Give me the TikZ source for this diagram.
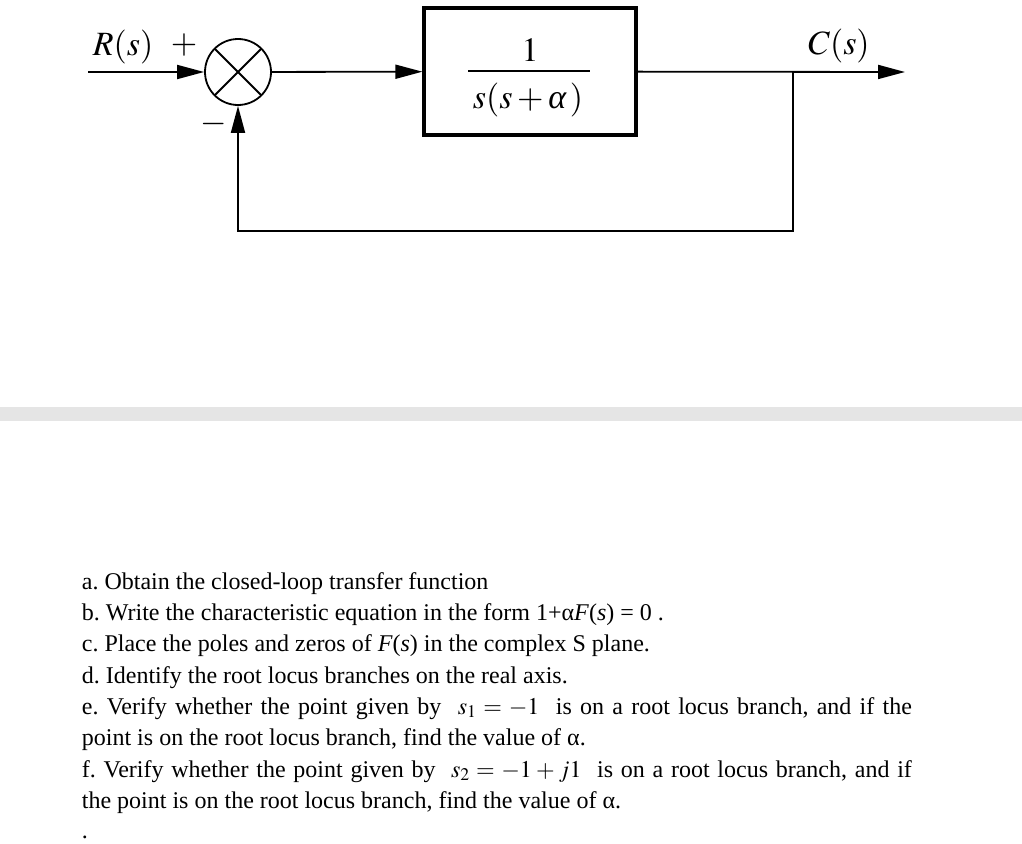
\documentclass[tikz,border=0pt]{standalone}
\usepackage{mathptmx}
\usepackage[no-math]{fontspec}
\setmainfont{Liberation Serif}
\usetikzlibrary{arrows.meta}
\frenchspacing

\begin{document}
\begin{tikzpicture}[x=1pt, y=-1pt,
    line width=1.8pt,
    arr/.style={-{Triangle[length=27pt, width=14pt]}},
    lbl/.style={font=\fontsize{34}{40}\selectfont, inner sep=0pt, anchor=base},
    qline/.style={font=\fontsize{24}{31}\selectfont, inner sep=0pt, anchor=base west}]

        \useasboundingbox (0,0) rectangle (1022,843);

        % === Schema a blocchi ===
        \coordinate (in) at (88,72);
        \node[draw, circle, minimum size=66pt, inner sep=0pt,
              path picture={\draw (path picture bounding box.north west) -- (path picture bounding box.south east)
                                  (path picture bounding box.north east) -- (path picture bounding box.south west);}]
              (sum) at (238,72) {};
        \node[draw, line width=3.2pt, minimum width=212pt, minimum height=127pt, inner sep=0pt] (plant) at (530,71.5) {};
        \coordinate (branch) at (793,72);
        \coordinate (out) at (905,72);
        \coordinate (fb) at (238,231);

        % Funzione di trasferimento
        \node[lbl] (num) at (530,62) {$1$};
        \node[lbl] (den) at (528,108) {$s(s+\textit{α}\,)$};
        \draw[line width=1.6pt] (468,71) -- (590,71);

        % Frecce
        \draw[arr] (in) -- (sum);
        \draw[arr] (sum) -- (plant);
        \draw[arr] (plant) -- (out);
        \draw[arr] (branch) |- (fb) -- (sum);

        % Labels
        \node[lbl] (rs) at (123,56) {$R(s)$};
        \node[lbl] (cs) at (839,55) {$C(s)$};
        \node[lbl, anchor=center] (plus) at (184,45) {$+$};
        \node[lbl, anchor=center] (minus) at (214,124) {$-$};

        % Separatore
        \fill[gray!20] (0,407) rectangle (1022,421);

        % === Domande ===
        \node[qline] (qa) at (81,589) {a. Obtain the closed-loop transfer function};
        \node[qline] (qb) at (81,620) {b. Write the characteristic equation in the form 1+α\textit{F}(\textit{s}) = 0 .};
        \node[qline] (qc) at (81,651) {c. Place the poles and zeros of \textit{F}(\textit{s}) in the complex S plane.};
        \node[qline] (qd) at (81,683) {d. Identify the root locus branches on the real axis.};
        \node[qline] (qe) at (81,714) {\makebox[830pt][s]{e. Verify whether the point given by \ $s_1=-1$ \ is on a root locus branch, and if the}};
        \node[qline] (qe2) at (81,745) {point is on the root locus branch, find the value of α.};
        \node[qline] (qf) at (81,777) {\makebox[830pt][s]{f. Verify whether the point given by \ $s_2=-1+j1$ \ is on a root locus branch, and if}};
        \node[qline] (qf2) at (81,808) {the point is on the root locus branch, find the value of α.};
        \node[qline] (dot) at (81,838) {.};

\end{tikzpicture}
\end{document}
